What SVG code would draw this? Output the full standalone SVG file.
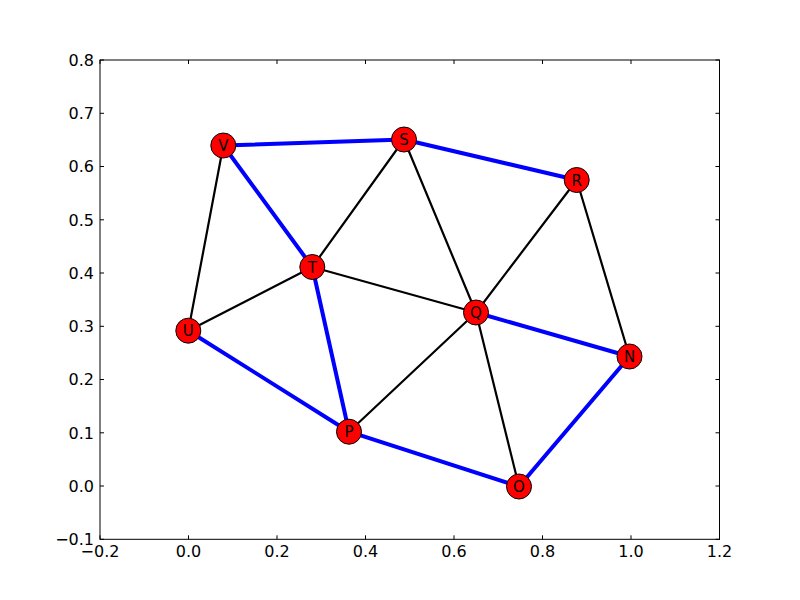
<svg xmlns="http://www.w3.org/2000/svg" width="800" height="600" viewBox="0 0 800 600">
<style>
.tick{stroke:#000;stroke-width:1}
.tl{font-family:"DejaVu Sans",sans-serif;font-size:16px;fill:#000}
.xl{text-anchor:middle}
.yl{text-anchor:end}
.eb{stroke:#000;stroke-width:2.2;stroke-linecap:round}
.eu{stroke:#0000ff;stroke-width:4;stroke-linecap:round}
.node circle{fill:#ff0000;stroke:#000;stroke-width:1}
.node text{font-family:"DejaVu Sans",sans-serif;font-size:15px;fill:#000;text-anchor:middle}
</style>
<rect width="800" height="600" fill="#fff"/>
<g id="axes">
<rect x="100" y="60" width="619.5" height="479.3" fill="#fff" stroke="#000" stroke-width="1"/>
<g class="tick">
<path d="M100,539.3v-4M100,60v4M188.5,539.3v-4M188.5,60v4M277,539.3v-4M277,60v4M365.5,539.3v-4M365.5,60v4M454,539.3v-4M454,60v4M542.5,539.3v-4M542.5,60v4M631,539.3v-4M631,60v4M719.5,539.3v-4M719.5,60v4"/>
<path d="M100,539.3h4M719.5,539.3h-4M100,486h4M719.5,486h-4M100,432.8h4M719.5,432.8h-4M100,379.5h4M719.5,379.5h-4M100,326.3h4M719.5,326.3h-4M100,273h4M719.5,273h-4M100,219.8h4M719.5,219.8h-4M100,166.5h4M719.5,166.5h-4M100,113.3h4M719.5,113.3h-4M100,60h4M719.5,60h-4"/>
</g>
<g class="tl xl">
<text x="100" y="556.5">−0.2</text>
<text x="188.5" y="556.5">0.0</text>
<text x="277" y="556.5">0.2</text>
<text x="365.5" y="556.5">0.4</text>
<text x="454" y="556.5">0.6</text>
<text x="542.5" y="556.5">0.8</text>
<text x="631" y="556.5">1.0</text>
<text x="719.5" y="556.5">1.2</text>
</g>
<g class="tl yl">
<text x="94" y="545">−0.1</text>
<text x="94" y="491.7">0.0</text>
<text x="94" y="438.5">0.1</text>
<text x="94" y="385.2">0.2</text>
<text x="94" y="332">0.3</text>
<text x="94" y="278.7">0.4</text>
<text x="94" y="225.5">0.5</text>
<text x="94" y="172.2">0.6</text>
<text x="94" y="119">0.7</text>
<text x="94" y="65.7">0.8</text>
</g>
</g>
<g id="edges">
<line class="eb" x1="223.3" y1="145.5" x2="188.3" y2="330.7"/>
<line class="eb" x1="188.3" y1="330.7" x2="312.3" y2="267"/>
<line class="eb" x1="312.3" y1="267" x2="404" y2="139.5"/>
<line class="eb" x1="312.3" y1="267" x2="476" y2="312.5"/>
<line class="eb" x1="404" y1="139.5" x2="476" y2="312.5"/>
<line class="eb" x1="576.7" y1="180" x2="476" y2="312.5"/>
<line class="eb" x1="576.7" y1="180" x2="629.5" y2="356.5"/>
<line class="eb" x1="476" y1="312.5" x2="349" y2="431.7"/>
<line class="eb" x1="476" y1="312.5" x2="519" y2="486.5"/>
<line class="eu" x1="223.3" y1="145.5" x2="404" y2="139.5"/>
<line class="eu" x1="404" y1="139.5" x2="576.7" y2="180"/>
<line class="eu" x1="223.3" y1="145.5" x2="312.3" y2="267"/>
<line class="eu" x1="312.3" y1="267" x2="349" y2="431.7"/>
<line class="eu" x1="188.3" y1="330.7" x2="349" y2="431.7"/>
<line class="eu" x1="349" y1="431.7" x2="519" y2="486.5"/>
<line class="eu" x1="519" y1="486.5" x2="629.5" y2="356.5"/>
<line class="eu" x1="476" y1="312.5" x2="629.5" y2="356.5"/>
</g>
<g id="V" class="node"><circle cx="223.3" cy="145.5" r="12.5"/><text x="223.3" y="151">V</text></g>
<g id="S" class="node"><circle cx="404" cy="139.5" r="12.5"/><text x="404" y="145">S</text></g>
<g id="R" class="node"><circle cx="576.7" cy="180" r="12.5"/><text x="576.7" y="185.5">R</text></g>
<g id="T" class="node"><circle cx="312.3" cy="267" r="12.5"/><text x="312.3" y="272.5">T</text></g>
<g id="U" class="node"><circle cx="188.3" cy="330.7" r="12.5"/><text x="188.3" y="336.2">U</text></g>
<g id="Q" class="node"><circle cx="476" cy="312.5" r="12.5"/><text x="476" y="318">Q</text></g>
<g id="N" class="node"><circle cx="629.5" cy="356.5" r="12.5"/><text x="629.5" y="362">N</text></g>
<g id="P" class="node"><circle cx="349" cy="431.7" r="12.5"/><text x="349" y="437.2">P</text></g>
<g id="O" class="node"><circle cx="519" cy="486.5" r="12.5"/><text x="519" y="492">O</text></g>
</svg>
